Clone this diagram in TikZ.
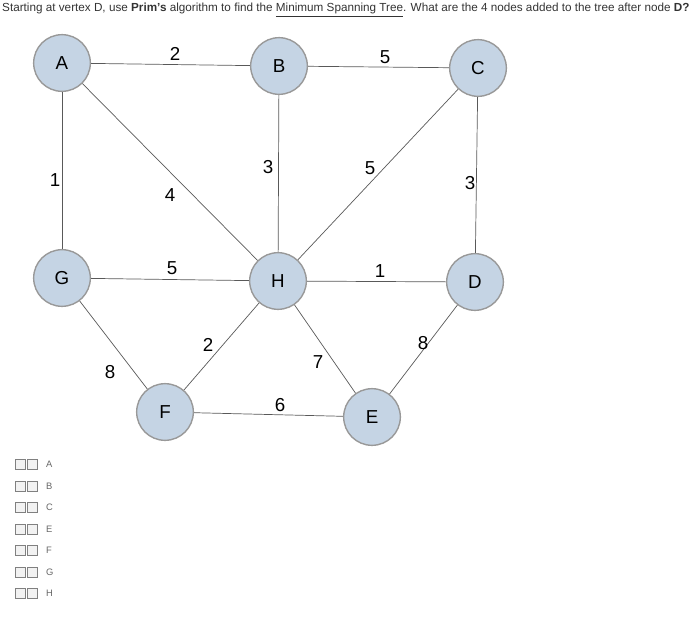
\documentclass[tikz,border=0pt]{standalone}
\usepackage{fontspec}
\setmainfont{Liberation Sans}
\begin{document}
\begin{tikzpicture}[x=0.03cm,y=-0.03cm]
	\tikzset{vtx/.style={circle, draw=gray!80, line width=1.2pt, fill={rgb,255:red,197;green,212;blue,228}, minimum size=1.7cm, font=\fontsize{16}{18}\selectfont}};
	\tikzset{wt/.style={font=\fontsize{16}{18}\selectfont, inner sep=1pt}};
	\tikzset{box/.style={draw=gray, fill=gray!10, minimum size=0.3cm, inner sep=0pt}};
	\tikzset{edge/.style={draw=gray!70!black, line width=0.6pt}};
	\useasboundingbox (0,0) rectangle (700,617);
	\node[anchor=west, font=\fontsize{10}{12}\selectfont, inner sep=0pt, text=black!80] (title) at (2,10) {Starting at vertex D, use \textbf{Prim's} algorithm to find the \underline{Minimum Spanning Tree}. What are the 4 nodes added to the tree after node \textbf{D?}};
	\node[vtx] (a) at (62,63) {A};
	\node[vtx] (b) at (279,66) {B};
	\node[vtx] (c) at (478,68) {C};
	\node[vtx] (g) at (62,278) {G};
	\node[vtx] (h) at (278,281) {H};
	\node[vtx] (d) at (475,282) {D};
	\node[vtx] (f) at (165,412) {F};
	\node[vtx] (e) at (372,417) {E};

	\draw[edge] (a) -- (b);
	\draw[edge] (b) -- (c);
	\draw[edge] (a) -- (g);
	\draw[edge] (a) -- (h);
	\draw[edge] (b) -- (h);
	\draw[edge] (c) -- (h);
	\draw[edge] (c) -- (d);
	\draw[edge] (g) -- (h);
	\draw[edge] (h) -- (d);
	\draw[edge] (g) -- (f);
	\draw[edge] (f) -- (h);
	\draw[edge] (h) -- (e);
	\draw[edge] (f) -- (e);
	\draw[edge] (e) -- (d);

	\node[wt] (wab) at (175,54) {2};
	\node[wt] (wbc) at (385,57) {5};
	\node[wt] (wag) at (55,180) {1};
	\node[wt] (wah) at (170,195) {4};
	\node[wt] (wbh) at (268,167) {3};
	\node[wt] (wch) at (370,168) {5};
	\node[wt] (wcd) at (470,183) {3};
	\node[wt] (wgh) at (172,268) {5};
	\node[wt] (whd) at (380,271) {1};
	\node[wt] (wgf) at (110,372) {8};
	\node[wt] (wfh) at (208,345) {2};
	\node[wt] (whe) at (318,362) {7};
	\node[wt] (wfe) at (280,405) {6};
	\node[wt] (wed) at (423,343) {8};

	\foreach \lab [count=\i] in {A,B,C,E,F,G,H} {
		\node[box] (cb\i) at (20,443+\i*21.5) {};
		\node[box] (cc\i) at (32,443+\i*21.5) {};
		\node[anchor=west, font=\fontsize{8}{10}\selectfont, text=gray!80!black] (l\i) at (42,443+\i*21.5) {\lab};
	}
\end{tikzpicture}
\end{document}
